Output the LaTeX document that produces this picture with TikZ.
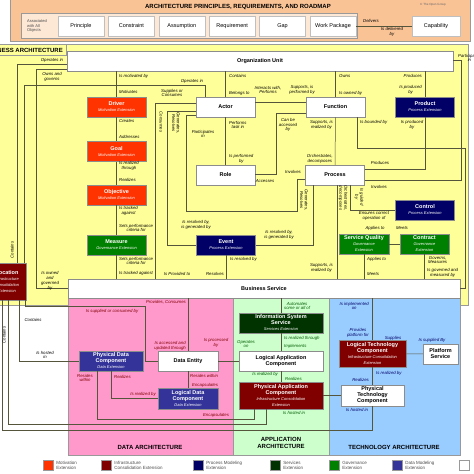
\documentclass[tikz,border=0pt]{standalone}
\usepackage{fontspec}
\setmainfont{Liberation Sans}
\usetikzlibrary{positioning}

\definecolor{motivred}{RGB}{255,51,0}
\definecolor{infrared}{RGB}{128,0,0}
\definecolor{procnavy}{RGB}{0,0,102}
\definecolor{svcgreen}{RGB}{0,51,0}
\definecolor{govgreen}{RGB}{0,128,0}
\definecolor{datablue}{RGB}{51,51,153}
\definecolor{toporange}{RGB}{250,195,150}
\definecolor{bizyellow}{RGB}{255,255,153}
\definecolor{datapink}{RGB}{255,153,204}
\definecolor{appgreen}{RGB}{204,255,204}
\definecolor{techblue}{RGB}{153,204,255}
\definecolor{linegray}{RGB}{85,85,60}

\newcommand{\extlbl}[1]{{\fontsize{4}{4.5}\selectfont\mdseries\itshape #1}}

\begin{document}
\begin{tikzpicture}[%
    x=1pt, y=-1pt,
    node distance=4pt,
base/.style={rectangle, draw=black!45, line width=0.5pt, align=center, inner sep=0.5pt, minimum width=59pt, minimum height=20pt, font=\fontsize{5.5}{6}\selectfont\bfseries},
corebox/.style={base, fill=white},
motivbox/.style={base, fill=motivred, text=white},
procbox/.style={base, fill=procnavy, text=white},
govbox/.style={base, fill=govgreen, text=white},
infrabox/.style={base, fill=infrared, text=white},
databox/.style={base, fill=datablue, text=white},
svcbox/.style={base, fill=svcgreen, text=white},
objbox/.style={rectangle, draw=black!25, fill=white, minimum width=46pt, minimum height=20pt, font=\fontsize{5.5}{6}\selectfont},
area/.style={font=\fontsize{6}{7}\selectfont\bfseries, align=center, inner sep=0pt},
lbl/.style={font=\fontsize{4.3}{4.8}\selectfont\itshape, inner sep=0pt, align=center},
pinklbl/.style={lbl, text=infrared},
greenlbl/.style={lbl, text=govgreen!70!black},
bluelbl/.style={lbl, text=procnavy},
conn/.style={draw=linegray, line width=0.5pt},
legend/.style={rectangle, draw=black!40, minimum size=10pt, inner sep=0pt},
legtext/.style={font=\fontsize{4.5}{5}\selectfont, text=black!70, align=left, inner sep=0pt}
]
\useasboundingbox (0,0) rectangle (474,474);
\clip (0,0) rectangle (474,474);

% Areas
\fill[white] (0,0) rectangle (474,474);
\draw[black!40, fill=toporange] (10,-2) rectangle (470,41);
\draw[black!40, fill=toporange!40!white] (21,13) rectangle (357,38);
\draw[black!40, fill=bizyellow] (-5,44) rectangle (468,305);
\draw[black!40, fill=bizyellow] (-30,44) rectangle (66,55);
\draw[black!40, fill=datapink] (68,298) rectangle (233,455);
\draw[black!40, fill=appgreen] (233,298) rectangle (329,455);
\draw[black!40, fill=techblue] (329,298) rectangle (460,455);

% Titles
\node[area] (principlestitle) at (238,7) {ARCHITECTURE PRINCIPLES, REQUIREMENTS, AND ROADMAP};
\node[inner sep=0pt, font=\fontsize{3}{3.5}\selectfont, text=black!60] (copyright) at (433,5) {\textcopyright\ The Open Group};
\node[area, anchor=east] (bizarch) at (63,50) {BUSINESS ARCHITECTURE};
\node[area] (dataarch) at (150,447) {DATA ARCHITECTURE};
\node[area] (apparch) at (281,443) {APPLICATION\\ARCHITECTURE};
\node[area] (techarch) at (394,447) {TECHNOLOGY ARCHITECTURE};

% Principles Nodes
\node[legtext, font=\fontsize{4}{4.6}\selectfont] (allobjects) at (37,26) {Associated\\with All\\Objects};
\node[objbox] (principle) at (81,26) {Principle};
\node[objbox] (constraint) [right=of principle] {Constraint};
\node[objbox] (assumption) [right=of constraint] {Assumption};
\node[objbox] (requirement) [right=of assumption] {Requirement};
\node[objbox] (gap) [right=of requirement] {Gap};
\node[objbox] (workpackage) [right=of gap] {Work Package};
\node[objbox, minimum width=48pt] (capability) at (436,26) {Capability};
\draw[conn] (workpackage) -- (capability);
\node[lbl] (ldelivers) at (371,21) {Delivers};
\node[lbl] (ldelivered) at (392,32) {Is delivered\\by};

% Business Nodes
\node[corebox, minimum width=386pt] (org) at (260,61) {Organization Unit};
\node[motivbox] (driver) at (116.5,107) {Driver\\\extlbl{Motivation Extension}};
\node[motivbox] (goal) at (116.5,151.5) {Goal\\\extlbl{Motivation Extension}};
\node[motivbox] (objective) at (116.5,195) {Objective\\\extlbl{Motivation Extension}};
\node[govbox] (measure) at (116.5,245) {Measure\\\extlbl{Governance Extension}};
\node[infrabox, minimum width=38pt, minimum height=37pt] (location) at (7,281.5) {Location\\\extlbl{Infrastructure}\\\extlbl{Consolidation}\\\extlbl{Extension}};
\node[corebox] (actor) at (225.5,107) {Actor};
\node[corebox] (role) at (225.5,175) {Role};
\node[corebox] (function) at (335.5,107) {Function};
\node[corebox] (process) at (335,175) {Process};
\node[procbox] (product) at (425,107) {Product\\\extlbl{Process Extension}};
\node[procbox] (control) at (425,210) {Control\\\extlbl{Process Extension}};
\node[procbox] (event) at (226,245) {Event\\\extlbl{Process Extension}};
\node[govbox, minimum width=50pt] (sq) at (364,244) {Service Quality\\\extlbl{Governance}\\\extlbl{Extension}};
\node[govbox, minimum width=49pt] (contract) at (424.5,244) {Contract\\\extlbl{Governance}\\\extlbl{Extension}};
\node[corebox, minimum width=392pt, minimum height=19pt] (bizsvc) at (264,288.5) {Business Service};

% Motivation Lines
\draw[conn] (driver.north |- org.south) -- (driver.north);
\draw[conn] (driver) -- (goal);
\draw[conn] (goal) -- (objective);
\draw[conn] (objective) -- (measure);
\draw[conn] (measure.south) -- (measure.south |- bizsvc.north);
\node[lbl, anchor=west] (lmotivatedby) at (119,76) {Is motivated by};
\node[lbl, anchor=west] (lmotivates) at (119,92) {Motivates};
\node[lbl, anchor=west] (lcreates) at (119,121) {Creates};
\node[lbl, anchor=west] (laddresses) at (119,137) {Addresses};
\node[lbl, anchor=west] (lrealizedthrough) at (119,166) {Is realized\\through};
\node[lbl, anchor=west] (lrealizes) at (119,180) {Realizes};
\node[lbl, anchor=west] (ltracked) at (119,211) {Is tracked\\against};
\node[lbl, anchor=west] (lsetscrit) at (119,228) {Sets performance\\criteria for};
\node[lbl, anchor=west] (lsetscrittwo) at (119,261) {Sets performance\\criteria for};
\node[lbl, anchor=west] (ltrackedtwo) at (119,273) {Is tracked against};

% Location Lines
\draw[conn] ([yshift=-3pt]org.west) -| ([xshift=10pt]location.north);
\draw[conn] ([yshift=-8pt]org.west) -- ++(-31,0) |- (bizsvc.west);
\draw[conn] ([xshift=-20pt]actor.north) -- ++(0,-12) -| ([xshift=17pt]location.north);
\node[lbl] (loperates) at (52,60) {Operates in};
\node[lbl] (lowns) at (52,77) {Owns and\\governs};
\node[lbl] (lownedby) at (50,281) {Is owned\\and\\governed\\by};
\node[lbl, rotate=90] (lcontains) at (12,250) {Contains};
\node[lbl] (loperatestwo) at (192,81) {Operates in};

% Actor Lines
\draw[conn] ([yshift=4pt]actor.west) -| ([xshift=-109pt]bizsvc.north);
\draw[conn] ([yshift=-4pt]actor.west) -- ++(-29,0) |- (event.west);
\draw[conn] ([yshift=-8pt]actor.west) -- ++(-10,0) -- ++(0,96) -- ++(111,0) |- ([yshift=-4pt]process.west);
\draw[conn] (actor.north |- org.south) -- (actor.north);
\draw[conn] (actor) -- (role);
\draw[conn] ([yshift=5pt]actor.east) -- ([yshift=5pt]function.west);
\draw[conn] ([yshift=1pt]role.east) -- ++(21,0) |- ([yshift=-6pt]function.west);
\node[lbl] (lsupplies) at (172,93) {Supplies or\\Consumes};
\node[lbl, rotate=-90] (lconsumes) at (161,122) {Consumes};
\node[lbl, rotate=-90] (lgenerates) at (176,123) {Generates,\\Resolves};
\node[lbl] (lresolvedby) at (196,225) {Is resolved by,\\is generated by};
\node[lbl] (lparticipates) at (203,134) {Participates\\in};
\node[lbl, anchor=west] (lcontainstwo) at (229,76) {Contains};
\node[lbl, anchor=west] (lbelongs) at (229,93) {Belongs to};
\node[lbl, anchor=west] (lperforms) at (229,125) {Performs\\task in};
\node[lbl, anchor=west] (lperformedby) at (229,159) {Is performed\\by};
\node[lbl] (linteracts) at (268,90) {Interacts with,\\Performs};
\node[lbl] (lsupports) at (302,90) {Supports, is\\performed by};
\node[lbl] (laccessedby) at (288,125) {Can be\\accessed\\by};
\node[lbl] (laccesses) at (265,181) {Accesses};
\node[lbl] (linvolves) at (293,172) {Involves};

% Process Lines
\draw[conn] (function.north |- org.south) -- (function.north);
\draw[conn] (product.north |- org.south) -- (product.north);
\draw[conn] (function) -- (process);
\draw[conn] ([xshift=-22pt]process.south) |- (event.east);
\draw[conn] ([xshift=2pt]process.south) -- ([xshift=2pt]process.south |- bizsvc.north);
\draw[conn] ([xshift=15pt]process.south) |- (control.west);
\draw[conn] ([yshift=6pt]process.east) -| (product.south);
\draw[conn] ([yshift=-5pt]process.east) -- ++(96,0) |- ([yshift=1pt]org.east);
\draw[conn] ([xshift=21.5pt]function.south) -- ++(0,31) -- ++(108,0) |- (bizsvc.east);
\node[lbl, anchor=west] (lowns) at (339,76) {Owns};
\node[lbl, anchor=west] (lownedbytwo) at (339,93) {Is owned by};
\node[lbl, anchor=east] (lproduces) at (422,76) {Produces};
\node[lbl, anchor=east] (lproducedby) at (422,90) {Is produced\\by};
\node[lbl, anchor=east] (lsupportsreal) at (333,125) {Supports, is\\realized by};
\node[lbl, anchor=east] (lorchestrated) at (333,159) {Orchestrates,\\decomposes};
\node[lbl, anchor=west] (lbounded) at (360,122) {Is bounded by};
\node[lbl] (lproducedbytwo) at (412,125) {Is produced\\by};
\node[lbl] (lproducestwo) at (380,163) {Produces};
\node[lbl] (linvolvestwo) at (379,187) {Involves};
\node[lbl, anchor=west] (lparticipatestwo) at (458,58) {Participates\\in};
\node[lbl, rotate=-90] (lgeneratestwo) at (304,200) {Generates,\\Resolves};
\node[lbl] (lresolvedbytwo) at (279,235) {Is resolved by,\\is generated by};
\node[lbl, rotate=-90] (lorchtwo) at (343,198) {Orchestrates,\\decomposes};
\node[lbl, rotate=-90] (lguided) at (359,197) {Is guided\\by};
\node[lbl] (lensures) at (374,216) {Ensures correct\\operation of};

% Service Lines
\draw[conn] (event.south) -- (event.south |- bizsvc.north);
\draw[conn] (sq) -- (contract);
\draw[conn] (sq.south) -- (sq.south |- bizsvc.north);
\draw[conn] (contract.south) -- (contract.south |- bizsvc.north);
\node[lbl, anchor=west] (lresolvedbythree) at (230,259) {Is resolved by};
\node[lbl, anchor=east] (lresolves) at (224,274) {Resolves};
\node[lbl] (lprovided) at (177,274) {Is Provided to};
\node[lbl, anchor=east] (lsupportsthree) at (333,268) {Supports, is\\realized by};
\node[lbl] (lappliesto) at (375,228) {Applies to};
\node[lbl] (lmeets) at (402,228) {Meets};
\node[lbl, anchor=west] (lappliestotwo) at (367,259) {Applies to};
\node[lbl, anchor=west] (lmeetstwo) at (367,274) {Meets};
\node[lbl, anchor=west] (lgoverns) at (428,260) {Governs,\\Measures};
\node[lbl, anchor=west] (lgoverned) at (427,273) {Is governed and\\measured by};

% Data Nodes
\node[databox, minimum width=64pt] (pdc) at (111,361) {Physical Data\\Component\\\extlbl{Data Extension}};
\node[corebox, minimum width=60pt] (dataentity) at (188,361) {Data Entity};
\node[databox, minimum width=60pt, minimum height=21pt] (ldc) at (188,398.5) {Logical Data\\Component\\\extlbl{Data Extension}};

% Application Nodes
\node[svcbox, minimum width=84pt] (iss) at (281,323) {Information System\\Service\\\extlbl{Services Extension}};
\node[corebox, minimum width=84pt] (lac) at (281,361) {Logical Application\\Component};
\node[infrabox, minimum width=84pt, minimum height=27pt] (pac) at (281,395.5) {Physical Application\\Component\\\extlbl{Infrastructure Consolidation}\\\extlbl{Extension}};

% Technology Nodes
\node[infrabox, minimum width=67pt, minimum height=27pt] (ltc) at (372.5,353.5) {Logical Technology\\Component\\\extlbl{Infrastructure Consolidation}\\\extlbl{Extension}};
\node[corebox, minimum width=35pt] (platformsvc) at (440.5,354) {Platform\\Service};
\node[corebox, minimum width=63pt, minimum height=21pt] (ptc) at (372.5,395.5) {Physical\\Technology\\Component};

% Data Lines
\draw[conn] (dataentity.north |- bizsvc.south) -- (dataentity.north);
\draw[conn] ([xshift=18pt]location.south) -- ++(0,6) -- ++(120,0) |- (dataentity.west);
\draw[conn] (pdc.south) |- (ldc.west);
\draw[conn] ([xshift=-14pt]pdc.south) -- ++(0,48) -| ([xshift=-27pt]pac.south);
\draw[conn] ([xshift=1pt]location.south) -- ++(0,124) -| ([xshift=-15pt]pac.south);
\draw[conn] ([xshift=-5pt]location.south) -- ++(0,130) -| (ptc.south);
\draw[conn] ([xshift=12pt]location.south) |- (pdc.west);
\draw[conn] (dataentity) -- (ldc);
\node[pinklbl, anchor=east] (lprovides) at (186,302) {Provides, Consumes};
\node[pinklbl] (lsupplied) at (112,311) {Is supplied or consumed by};
\node[pinklbl, anchor=east] (laccessed) at (186,346) {Is accessed and\\updated through};
\node[pinklbl, anchor=west] (lrealizestwo) at (114,377) {Realizes};
\node[pinklbl] (lrealizedby) at (143,394) {Is realized by};
\node[pinklbl] (lresides) at (85,378) {Resides\\within};
\node[pinklbl] (lencaps) at (216,415) {Encapsulates};
\node[pinklbl, anchor=west] (lresidestwo) at (190,376) {Resides within};
\node[pinklbl, anchor=west] (lencapstwo) at (192,385) {Encapsulates};
\node[pinklbl] (lprocessed) at (216,343) {Is processed\\by};
\node[lbl] (lhosted) at (45,355) {Is hosted\\in};
\node[lbl] (lcontainsthree) at (33,320) {Contains};
\node[lbl, rotate=90] (lcontainsfour) at (4,335) {Contains};

% Application Lines
\draw[conn] (iss.north |- bizsvc.south) -- (iss.north);
\draw[conn] (iss) -- (lac);
\draw[conn] (dataentity) -- (lac);
\draw[conn] (lac) -- (pac);
\draw[conn] (pac) -- (ptc);
\node[greenlbl, anchor=west] (lautomates) at (284,306) {Automates\\some or all of};
\node[greenlbl, anchor=west] (lrealthrough) at (284,338) {Is realized through};
\node[greenlbl, anchor=west] (limplements) at (284,346) {Implements};
\node[greenlbl] (loperateson) at (246,344) {Operates\\on};
\node[greenlbl, anchor=east] (lrealizedbytwo) at (278,374) {Is realized by};
\node[greenlbl, anchor=west] (lrealizesthree) at (285,379) {Realizes};
\node[greenlbl] (lhostedtwo) at (294,413) {Is hosted in};

% Technology Lines
\draw[conn] (ltc.north |- bizsvc.south) -- (ltc.north);
\draw[conn] (ltc) -- (platformsvc);
\draw[conn] (ltc) -- (ptc);
\node[bluelbl, anchor=east] (limplemented) at (369,306) {Is implemented\\on};
\node[bluelbl, anchor=east] (lplatform) at (369,333) {Provides\\platform for};
\node[bluelbl] (lsupplies) at (393,338) {Supplies};
\node[bluelbl] (lsuppliedby) at (432,340) {Is supplied By};
\node[bluelbl, anchor=west] (lrealizedbythree) at (376,373) {Is realized by};
\node[bluelbl, anchor=east] (lrealizesfour) at (369,380) {Realizes};
\node[bluelbl] (lhostedthree) at (357,410) {Is hosted in};

% Legend
\node[legend, fill=motivred] (lgmotiv) at (48,465) {};
\node[legtext, right=3pt of lgmotiv] (lgmotivtext) {Motivation\\Extension};
\node[legend, fill=infrared] (lginfra) at (106,465) {};
\node[legtext, right=3pt of lginfra] (lginfratext) {Infrastructure\\Consolidation Extension};
\node[legend, fill=procnavy] (lgproc) at (198,465) {};
\node[legtext, right=3pt of lgproc] (lgproctext) {Process Modeling\\Extension};
\node[legend, fill=svcgreen] (lgsvc) at (275,465) {};
\node[legtext, right=3pt of lgsvc] (lgsvctext) {Services\\Extension};
\node[legend, fill=govgreen] (lggov) at (334,465) {};
\node[legtext, right=3pt of lggov] (lggovtext) {Governance\\Extension};
\node[legend, fill=datablue] (lgdata) at (397,465) {};
\node[legtext, right=3pt of lgdata] (lgdatatext) {Data Modeling\\Extension};
\node[legend, fill=white] (lgcore) at (464,465) {};

\end{tikzpicture}
\end{document}
